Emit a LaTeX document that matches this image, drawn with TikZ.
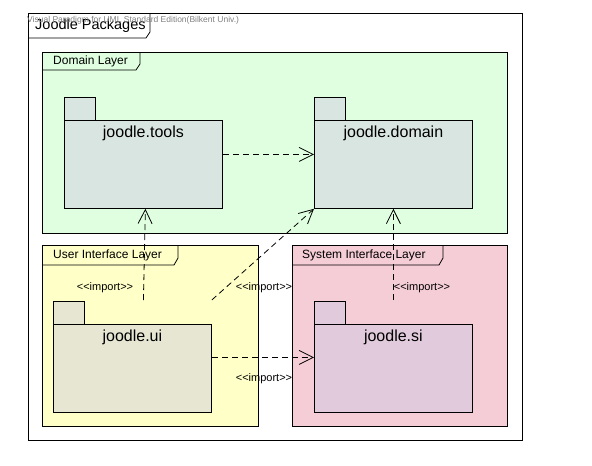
\documentclass[tikz,border=0pt]{standalone}
\usepackage{fontspec}
\newfontfamily\vpfont{Liberation Sans}
\usetikzlibrary{arrows.meta}

\definecolor{domainbg}{HTML}{E0FFE0}
\definecolor{uibg}{HTML}{FFFFC8}
\definecolor{sibg}{HTML}{F5CDD6}
\definecolor{pkgfill}{HTML}{D9E5E1}
\definecolor{uifill}{HTML}{E6E6D2}
\definecolor{sifill}{HTML}{E1CADC}

\begin{document}
\begin{tikzpicture}[x=1pt,y=-1pt,>={Straight Barb[length=14pt,width=14pt,line width=0.8pt]},
    box/.style={draw, line width=0.8pt, anchor=north west, inner sep=0pt},
    pkg/.style={box, minimum width=158pt, minimum height=88pt},
    pkgname/.style={anchor=north, inner sep=0pt, yshift=-6pt, font=\vpfont\fontsize{16}{18}\selectfont},
    layername/.style={anchor=west, inner sep=0pt, font=\vpfont\fontsize{12}{14}\selectfont},
    stereo/.style={inner sep=0pt, font=\vpfont\fontsize{11}{13}\selectfont},
    import/.style={->, line width=0.8pt, dash pattern=on 6pt off 4pt}]

    \useasboundingbox[fill=white] (0,0) rectangle (592,466);

    % Outer frame
    \node[box, minimum width=494pt, minimum height=427pt] (frame) at (28,13) {};
    \draw[line width=0.8pt] (28,38) -- (146,38) -- (150,32) -- (150,13);
    \node[anchor=west, inner sep=0pt, font=\vpfont\fontsize{14.5}{16}\selectfont] (title) at (35,26) {Joodle Packages};
    \node[anchor=west, inner sep=0pt, text=gray, font=\vpfont\fontsize{8.5}{10}\selectfont] (watermark) at (27,20)
        {Visual Paradigm for UML Standard Edition(Bilkent Univ.)};

    % Layers
    \node[box, fill=domainbg, minimum width=465pt, minimum height=181pt] (domlayer) at (42,52) {};
    \draw[line width=0.8pt] (42,70) -- (136,70) -- (140,64) -- (140,52);
    \node[layername] (domtitle) at (53,61) {Domain Layer};

    \node[box, fill=uibg, minimum width=216pt, minimum height=181pt] (uilayer) at (42,245) {};
    \draw[line width=0.8pt] (42,265) -- (174,265) -- (178,258) -- (178,245);
    \node[layername] (uititle) at (53,255) {User Interface Layer};

    \node[box, fill=sibg, minimum width=215pt, minimum height=181pt, line width=1.2pt] (silayer) at (292,245) {};
    \draw[line width=0.8pt] (292,265) -- (439,265) -- (443,258) -- (443,245);
    \node[layername] (sititle) at (302,255) {System Interface Layer};

    % Packages
    \foreach \name/\txt/\x/\y/\col in {tools/joodle.tools/64/120/pkgfill,
                                        domain/joodle.domain/314/120/pkgfill,
                                        ui/joodle.ui/53/324/uifill,
                                        si/joodle.si/314/324/sifill} {
        \draw[line width=0.8pt, fill=\col] (\x,\y) rectangle ++(31,-23);
        \node[pkg, fill=\col] (\name) at (\x,\y) {};
        \node[pkgname] (\name name) at (\name.north) {\txt};
    }

    % Dependencies
    \draw[import] ([shift={(11,-24)}]ui.north) -- ([xshift=2pt]tools.south);
    \draw[import] ([yshift=10pt]tools.east) -- ([yshift=10pt]domain.west);
    \draw[import] ([yshift=24pt]ui.north east) -- (domain.south west);
    \draw[import] ([yshift=24pt]si.north) -- (domain.south);
    \draw[import] ([yshift=11pt]ui.east) -- ([yshift=11pt]si.west);

    \node[stereo] (imp1) at (105,288) {<<import>>};
    \node[stereo] (imp2) at (264,288) {<<import>>};
    \node[stereo] (imp3) at (422,288) {<<import>>};
    \node[stereo] (imp4) at (264,379) {<<import>>};

\end{tikzpicture}
\end{document}
